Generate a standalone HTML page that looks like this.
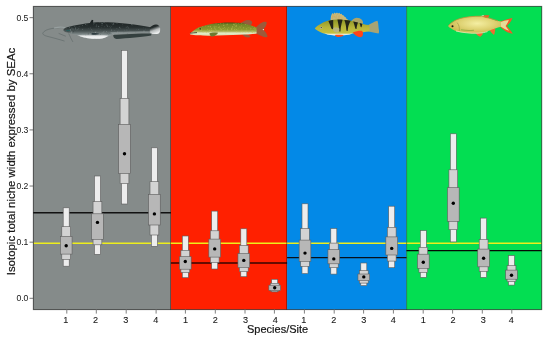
<!DOCTYPE html><html><head><meta charset="utf-8"><style>
html,body{margin:0;padding:0;background:#fff;width:550px;height:339px;overflow:hidden}
svg{display:block}
text{font-family:"Liberation Sans",Arial,sans-serif;fill:#161616;stroke:#161616;stroke-width:0.2}
</style></head><body>
<svg width="550" height="339" viewBox="0 0 550 339">
<rect x="33.3" y="6.4" width="137.60" height="303.20000000000005" fill="#858b8a"/>
<rect x="170.9" y="6.4" width="116.20" height="303.20000000000005" fill="#ff2000"/>
<rect x="287.1" y="6.4" width="119.40" height="303.20000000000005" fill="#0389e7"/>
<rect x="406.5" y="6.4" width="135.20" height="303.20000000000005" fill="#03de52"/>
<line x1="33.35" x2="541.7" y1="243.25" y2="243.25" stroke="#eeee1c" stroke-width="1.6"/>
<line x1="33.3" x2="170.9" y1="212.75" y2="212.75" stroke="#111" stroke-width="1.6"/>
<line x1="170.9" x2="287.1" y1="263.0" y2="263.0" stroke="#360400" stroke-width="1.7"/>
<line x1="287.1" x2="406.5" y1="257.6" y2="257.6" stroke="#08101a" stroke-width="1.35"/>
<line x1="406.5" x2="541.7" y1="250.6" y2="250.6" stroke="#050a05" stroke-width="1.3"/>
<rect x="63.20" y="207.80" width="6.00" height="58.40" fill="#ededed" stroke="#5c5c5c" stroke-width="0.6"/>
<rect x="61.80" y="226.70" width="8.80" height="32.70" fill="#d3d3d3" stroke="#5c5c5c" stroke-width="0.6"/>
<rect x="60.35" y="236.30" width="11.70" height="17.80" fill="#b7b7b7" stroke="#5c5c5c" stroke-width="0.6"/>
<circle cx="66.2" cy="245.8" r="1.7" fill="#000"/>
<rect x="94.45" y="176.00" width="6.00" height="78.30" fill="#ededed" stroke="#5c5c5c" stroke-width="0.6"/>
<rect x="93.05" y="201.60" width="8.80" height="43.20" fill="#d3d3d3" stroke="#5c5c5c" stroke-width="0.6"/>
<rect x="91.60" y="213.80" width="11.70" height="25.50" fill="#b7b7b7" stroke="#5c5c5c" stroke-width="0.6"/>
<circle cx="97.45" cy="222.4" r="1.7" fill="#000"/>
<rect x="121.50" y="50.30" width="6.00" height="153.70" fill="#ededed" stroke="#5c5c5c" stroke-width="0.6"/>
<rect x="120.10" y="98.30" width="8.80" height="85.30" fill="#d3d3d3" stroke="#5c5c5c" stroke-width="0.6"/>
<rect x="118.65" y="124.30" width="11.70" height="49.30" fill="#b7b7b7" stroke="#5c5c5c" stroke-width="0.6"/>
<circle cx="124.5" cy="153.7" r="1.7" fill="#000"/>
<rect x="151.40" y="147.80" width="6.00" height="98.50" fill="#ededed" stroke="#5c5c5c" stroke-width="0.6"/>
<rect x="150.00" y="181.70" width="8.80" height="53.30" fill="#d3d3d3" stroke="#5c5c5c" stroke-width="0.6"/>
<rect x="148.55" y="194.30" width="11.70" height="30.70" fill="#b7b7b7" stroke="#5c5c5c" stroke-width="0.6"/>
<circle cx="154.4" cy="213.9" r="1.7" fill="#000"/>
<rect x="182.30" y="236.00" width="6.00" height="41.70" fill="#ededed" stroke="#5c5c5c" stroke-width="0.6"/>
<rect x="180.90" y="250.40" width="8.80" height="22.00" fill="#d3d3d3" stroke="#5c5c5c" stroke-width="0.6"/>
<rect x="179.45" y="256.70" width="11.70" height="12.50" fill="#b7b7b7" stroke="#5c5c5c" stroke-width="0.6"/>
<circle cx="185.3" cy="261.5" r="1.7" fill="#000"/>
<rect x="211.70" y="211.10" width="6.00" height="57.90" fill="#ededed" stroke="#5c5c5c" stroke-width="0.6"/>
<rect x="210.30" y="230.80" width="8.80" height="31.60" fill="#d3d3d3" stroke="#5c5c5c" stroke-width="0.6"/>
<rect x="208.85" y="239.10" width="11.70" height="18.00" fill="#b7b7b7" stroke="#5c5c5c" stroke-width="0.6"/>
<circle cx="214.7" cy="248.9" r="1.7" fill="#000"/>
<rect x="240.80" y="228.80" width="6.00" height="47.90" fill="#ededed" stroke="#5c5c5c" stroke-width="0.6"/>
<rect x="239.40" y="245.40" width="8.80" height="26.10" fill="#d3d3d3" stroke="#5c5c5c" stroke-width="0.6"/>
<rect x="237.95" y="253.60" width="11.70" height="13.90" fill="#b7b7b7" stroke="#5c5c5c" stroke-width="0.6"/>
<circle cx="243.8" cy="260.4" r="1.7" fill="#000"/>
<rect x="271.70" y="279.30" width="6.00" height="12.60" fill="#ededed" stroke="#5c5c5c" stroke-width="0.6"/>
<rect x="270.30" y="283.30" width="8.80" height="7.80" fill="#d3d3d3" stroke="#5c5c5c" stroke-width="0.6"/>
<rect x="268.85" y="285.20" width="11.70" height="5.20" fill="#b7b7b7" stroke="#5c5c5c" stroke-width="0.6"/>
<circle cx="274.7" cy="287.7" r="1.7" fill="#000"/>
<rect x="302.00" y="203.80" width="6.00" height="69.80" fill="#ededed" stroke="#5c5c5c" stroke-width="0.6"/>
<rect x="300.60" y="228.60" width="8.80" height="37.70" fill="#d3d3d3" stroke="#5c5c5c" stroke-width="0.6"/>
<rect x="299.15" y="240.10" width="11.70" height="21.20" fill="#b7b7b7" stroke="#5c5c5c" stroke-width="0.6"/>
<circle cx="305.0" cy="253.1" r="1.7" fill="#000"/>
<rect x="330.80" y="228.50" width="6.00" height="45.60" fill="#ededed" stroke="#5c5c5c" stroke-width="0.6"/>
<rect x="329.40" y="243.10" width="8.80" height="24.60" fill="#d3d3d3" stroke="#5c5c5c" stroke-width="0.6"/>
<rect x="327.95" y="249.70" width="11.70" height="14.10" fill="#b7b7b7" stroke="#5c5c5c" stroke-width="0.6"/>
<circle cx="333.8" cy="258.9" r="1.7" fill="#000"/>
<rect x="360.80" y="263.00" width="6.00" height="22.60" fill="#ededed" stroke="#5c5c5c" stroke-width="0.6"/>
<rect x="359.40" y="270.60" width="8.80" height="12.50" fill="#d3d3d3" stroke="#5c5c5c" stroke-width="0.6"/>
<rect x="357.95" y="274.00" width="11.70" height="6.60" fill="#b7b7b7" stroke="#5c5c5c" stroke-width="0.6"/>
<circle cx="363.8" cy="276.9" r="1.7" fill="#000"/>
<rect x="388.70" y="206.20" width="6.00" height="61.50" fill="#ededed" stroke="#5c5c5c" stroke-width="0.6"/>
<rect x="387.30" y="227.30" width="8.80" height="33.80" fill="#d3d3d3" stroke="#5c5c5c" stroke-width="0.6"/>
<rect x="385.85" y="236.90" width="11.70" height="18.10" fill="#b7b7b7" stroke="#5c5c5c" stroke-width="0.6"/>
<circle cx="391.7" cy="248.4" r="1.7" fill="#000"/>
<rect x="420.30" y="230.60" width="6.00" height="46.80" fill="#ededed" stroke="#5c5c5c" stroke-width="0.6"/>
<rect x="418.90" y="247.30" width="8.80" height="25.10" fill="#d3d3d3" stroke="#5c5c5c" stroke-width="0.6"/>
<rect x="417.45" y="254.20" width="11.70" height="14.10" fill="#b7b7b7" stroke="#5c5c5c" stroke-width="0.6"/>
<circle cx="423.3" cy="262.3" r="1.7" fill="#000"/>
<rect x="450.30" y="133.80" width="6.00" height="108.10" fill="#ededed" stroke="#5c5c5c" stroke-width="0.6"/>
<rect x="448.90" y="169.80" width="8.80" height="59.90" fill="#d3d3d3" stroke="#5c5c5c" stroke-width="0.6"/>
<rect x="447.45" y="187.70" width="11.70" height="33.60" fill="#b7b7b7" stroke="#5c5c5c" stroke-width="0.6"/>
<circle cx="453.3" cy="203.2" r="1.7" fill="#000"/>
<rect x="480.60" y="218.10" width="6.00" height="59.30" fill="#ededed" stroke="#5c5c5c" stroke-width="0.6"/>
<rect x="479.20" y="239.50" width="8.80" height="31.80" fill="#d3d3d3" stroke="#5c5c5c" stroke-width="0.6"/>
<rect x="477.75" y="249.10" width="11.70" height="17.70" fill="#b7b7b7" stroke="#5c5c5c" stroke-width="0.6"/>
<circle cx="483.6" cy="258.3" r="1.7" fill="#000"/>
<rect x="508.50" y="255.60" width="6.00" height="29.50" fill="#ededed" stroke="#5c5c5c" stroke-width="0.6"/>
<rect x="507.10" y="265.60" width="8.80" height="16.00" fill="#d3d3d3" stroke="#5c5c5c" stroke-width="0.6"/>
<rect x="505.65" y="270.10" width="11.70" height="9.10" fill="#b7b7b7" stroke="#5c5c5c" stroke-width="0.6"/>
<circle cx="511.5" cy="275.2" r="1.7" fill="#000"/>
<rect x="33.35" y="6.4" width="508.35" height="303.20000000000005" fill="none" stroke="#000" stroke-opacity="0.6" stroke-width="1.0"/>
<line x1="170.5" x2="170.5" y1="6.4" y2="309.6" stroke="#000" stroke-opacity="0.45" stroke-width="0.9"/>
<line x1="286.7" x2="286.7" y1="6.4" y2="309.6" stroke="#000" stroke-opacity="0.45" stroke-width="0.9"/>
<line x1="406.6" x2="406.6" y1="6.4" y2="309.6" stroke="#000" stroke-opacity="0.45" stroke-width="0.9"/>
<line x1="29.5" x2="33.35" y1="298.30" y2="298.30" stroke="#555" stroke-width="0.8"/>
<text x="28.4" y="301.40" font-size="8.6" text-anchor="end" style="stroke-width:0.02">0.0</text>
<line x1="29.5" x2="33.35" y1="242.17" y2="242.17" stroke="#555" stroke-width="0.8"/>
<text x="28.4" y="245.27" font-size="8.6" text-anchor="end" style="stroke-width:0.02">0.1</text>
<line x1="29.5" x2="33.35" y1="186.04" y2="186.04" stroke="#555" stroke-width="0.8"/>
<text x="28.4" y="189.14" font-size="8.6" text-anchor="end" style="stroke-width:0.02">0.2</text>
<line x1="29.5" x2="33.35" y1="129.91" y2="129.91" stroke="#555" stroke-width="0.8"/>
<text x="28.4" y="133.01" font-size="8.6" text-anchor="end" style="stroke-width:0.02">0.3</text>
<line x1="29.5" x2="33.35" y1="73.78" y2="73.78" stroke="#555" stroke-width="0.8"/>
<text x="28.4" y="76.88" font-size="8.6" text-anchor="end" style="stroke-width:0.02">0.4</text>
<line x1="29.5" x2="33.35" y1="17.65" y2="17.65" stroke="#555" stroke-width="0.8"/>
<text x="28.4" y="20.75" font-size="8.6" text-anchor="end" style="stroke-width:0.02">0.5</text>
<line x1="66.80" x2="66.80" y1="309.6" y2="313.6" stroke="#808080" stroke-width="1.0"/>
<text x="65.80" y="322.8" font-size="9.1" text-anchor="middle" style="stroke-width:0.1">1</text>
<line x1="96.30" x2="96.30" y1="309.6" y2="313.6" stroke="#808080" stroke-width="1.0"/>
<text x="95.60" y="322.8" font-size="9.1" text-anchor="middle" style="stroke-width:0.1">2</text>
<line x1="126.20" x2="126.20" y1="309.6" y2="313.6" stroke="#808080" stroke-width="1.0"/>
<text x="125.70" y="322.8" font-size="9.1" text-anchor="middle" style="stroke-width:0.1">3</text>
<line x1="156.10" x2="156.10" y1="309.6" y2="313.6" stroke="#808080" stroke-width="1.0"/>
<text x="155.80" y="322.8" font-size="9.1" text-anchor="middle" style="stroke-width:0.1">4</text>
<line x1="185.40" x2="185.40" y1="309.6" y2="313.6" stroke="#808080" stroke-width="1.0"/>
<text x="185.60" y="322.8" font-size="9.1" text-anchor="middle" style="stroke-width:0.1">1</text>
<line x1="215.30" x2="215.30" y1="309.6" y2="313.6" stroke="#808080" stroke-width="1.0"/>
<text x="215.30" y="322.8" font-size="9.1" text-anchor="middle" style="stroke-width:0.1">2</text>
<line x1="245.00" x2="245.00" y1="309.6" y2="313.6" stroke="#808080" stroke-width="1.0"/>
<text x="245.60" y="322.8" font-size="9.1" text-anchor="middle" style="stroke-width:0.1">3</text>
<line x1="274.40" x2="274.40" y1="309.6" y2="313.6" stroke="#808080" stroke-width="1.0"/>
<text x="275.40" y="322.8" font-size="9.1" text-anchor="middle" style="stroke-width:0.1">4</text>
<line x1="304.40" x2="304.40" y1="309.6" y2="313.6" stroke="#808080" stroke-width="1.0"/>
<text x="303.70" y="322.8" font-size="9.1" text-anchor="middle" style="stroke-width:0.1">1</text>
<line x1="334.20" x2="334.20" y1="309.6" y2="313.6" stroke="#808080" stroke-width="1.0"/>
<text x="333.70" y="322.8" font-size="9.1" text-anchor="middle" style="stroke-width:0.1">2</text>
<line x1="363.60" x2="363.60" y1="309.6" y2="313.6" stroke="#808080" stroke-width="1.0"/>
<text x="363.70" y="322.8" font-size="9.1" text-anchor="middle" style="stroke-width:0.1">3</text>
<line x1="393.40" x2="393.40" y1="309.6" y2="313.6" stroke="#808080" stroke-width="1.0"/>
<text x="393.40" y="322.8" font-size="9.1" text-anchor="middle" style="stroke-width:0.1">4</text>
<line x1="423.20" x2="423.20" y1="309.6" y2="313.6" stroke="#808080" stroke-width="1.0"/>
<text x="423.30" y="322.8" font-size="9.1" text-anchor="middle" style="stroke-width:0.1">1</text>
<line x1="452.60" x2="452.60" y1="309.6" y2="313.6" stroke="#808080" stroke-width="1.0"/>
<text x="453.10" y="322.8" font-size="9.1" text-anchor="middle" style="stroke-width:0.1">2</text>
<line x1="482.30" x2="482.30" y1="309.6" y2="313.6" stroke="#808080" stroke-width="1.0"/>
<text x="483.40" y="322.8" font-size="9.1" text-anchor="middle" style="stroke-width:0.1">3</text>
<line x1="511.80" x2="511.80" y1="309.6" y2="313.6" stroke="#808080" stroke-width="1.0"/>
<text x="511.30" y="322.8" font-size="9.1" text-anchor="middle" style="stroke-width:0.1">4</text>
<text x="277.6" y="333" font-size="11" text-anchor="middle">Species/Site</text>
<text transform="translate(14.6,161.5) rotate(-90)" font-size="11.45" text-anchor="middle">Isotopic total niche width expressed by SEAc</text>
<defs>
<clipPath id="catc"><path d="M63.4,29.8 C63.8,28.6 65.5,27.8 68,27 C72,25.8 76,25 80,24.4 C84,23.8 87.5,23.3 89.8,23 L91.9,19.7 L93.3,20.2 L93,22.5 C103,22 115,22.4 125,23.6 C135,24.7 144,25.9 150.8,27.2 L150.8,33.3 C140,33.2 126,33.5 113,34.6 C108.5,36.2 105,38.2 100,38.6 C93,38.9 85,38.4 80,36.2 C75,34.6 70,33.6 66,32.3 C64.2,31.6 63.2,30.7 63.4,29.8 Z"/></clipPath>
<clipPath id="pikec"><path d="M189.8,33.6 C192,32 195,29.3 199,27.3 C203,25.9 207,24.7 211,24 C214,23.4 217,23 220,22.9 C223.5,22.6 227,22.5 230,22.5 C234,22.6 238,22.7 241,23 C244,23.5 246,23.9 248,24.4 C251,25.3 253.8,26.3 256.6,27.4 L256.6,33.6 C252,34.2 246,34.5 240,34.7 C230,34.9 220,35.4 210,35.7 C202,35.8 195,35.3 190.3,34.5 Z"/></clipPath>
</defs><defs>
<linearGradient id="catg" x1="0" y1="0" x2="0" y2="1">
<stop offset="0" stop-color="#1a2020"/><stop offset="0.4" stop-color="#283030"/><stop offset="0.6" stop-color="#4a5454"/><stop offset="0.8" stop-color="#8a9494"/><stop offset="1" stop-color="#b4bcbc"/>
</linearGradient>
<linearGradient id="tailg" x1="0.1" y1="0" x2="0.5" y2="1"><stop offset="0" stop-color="#121616"/><stop offset="0.35" stop-color="#283030"/><stop offset="0.65" stop-color="#b8bcbc"/><stop offset="1" stop-color="#eef0f0"/></linearGradient>
<linearGradient id="bellyg" x1="0" y1="0" x2="0" y2="1">
<stop offset="0" stop-color="#c8cccc" stop-opacity="0.3"/><stop offset="0.35" stop-color="#e6e8e8"/><stop offset="1" stop-color="#f4f6f6"/>
</linearGradient>
<linearGradient id="pikeg" x1="0" y1="0" x2="0" y2="1">
<stop offset="0" stop-color="#485416"/><stop offset="0.15" stop-color="#738326"/><stop offset="0.55" stop-color="#8d9a30"/><stop offset="0.68" stop-color="#aeb664"/><stop offset="0.8" stop-color="#e4ecc8"/><stop offset="1" stop-color="#d6deae"/>
</linearGradient>
<linearGradient id="perchg" x1="0" y1="0" x2="0" y2="1">
<stop offset="0" stop-color="#8e9426"/><stop offset="0.5" stop-color="#b6b53a"/><stop offset="0.85" stop-color="#c4c040"/><stop offset="1" stop-color="#f4f4e8"/>
</linearGradient>
<radialGradient id="ruddg" cx="0.55" cy="0.42" r="0.62">
<stop offset="0" stop-color="#f4eea2"/><stop offset="0.5" stop-color="#e0d476"/><stop offset="1" stop-color="#c6b44a"/>
</radialGradient>
</defs>
<!-- catfish -->
<g fill="none" stroke="#5e6868" stroke-width="0.62" stroke-linecap="round">
<path d="M64.5,27.2 C60,27.6 56,27.9 52,28.5 C47.5,29.3 44,30.8 42.8,33 C42.5,34.6 44.5,35.6 48,36.5 C53,37.8 58.5,39.2 64.2,41"/>
<path d="M59,33.5 C61,34.3 63.5,35.2 65.5,36.1"/>
<path d="M68.8,33.8 C69.5,35 70.2,36.5 70.6,37.6 C71.3,39 72,40.5 72.7,41.6"/>
</g>
<path d="M54.5,27.9 C57.5,27.2 61,26.9 64.8,27.4" fill="none" stroke="#98a0a0" stroke-width="1.3" stroke-linecap="round"/>
<path d="M63.4,29.8 C63.8,28.6 65.5,27.8 68,27 C72,25.8 76,25 80,24.4 C84,23.8 87.5,23.3 89.8,23 L91.9,19.7 L93.3,20.2 L93,22.5 C103,22 115,22.4 125,23.6 C135,24.7 144,25.9 150.8,27.2 L150.8,33.3 C140,33.2 126,33.5 113,34.6 C108.5,36.2 105,38.2 100,38.6 C93,38.9 85,38.4 80,36.2 C75,34.6 70,33.6 66,32.3 C64.2,31.6 63.2,30.7 63.4,29.8 Z" fill="url(#catg)"/>
<g clip-path="url(#catc)">
<circle cx="94.7" cy="22.9" r="0.53" fill="#5e6a6a" opacity="0.75"/>
<circle cx="143.5" cy="21.8" r="0.50" fill="#4a5656" opacity="0.75"/>
<circle cx="84.0" cy="21.6" r="0.45" fill="#5e6a6a" opacity="0.75"/>
<circle cx="71.9" cy="28.1" r="0.59" fill="#5e6a6a" opacity="0.75"/>
<circle cx="155.9" cy="32.0" r="0.50" fill="#3a4444" opacity="0.6"/>
<circle cx="119.6" cy="27.5" r="0.64" fill="#5e6a6a" opacity="0.75"/>
<circle cx="117.6" cy="22.5" r="0.45" fill="#4a5656" opacity="0.75"/>
<circle cx="74.5" cy="25.9" r="0.59" fill="#5e6a6a" opacity="0.75"/>
<circle cx="73.1" cy="30.9" r="0.37" fill="#5e6a6a" opacity="0.75"/>
<circle cx="116.7" cy="21.2" r="0.32" fill="#5e6a6a" opacity="0.75"/>
<circle cx="111.6" cy="30.1" r="0.57" fill="#748080" opacity="0.75"/>
<circle cx="120.4" cy="28.6" r="0.40" fill="#5e6a6a" opacity="0.75"/>
<circle cx="131.5" cy="24.6" r="0.50" fill="#4a5656" opacity="0.75"/>
<circle cx="111.5" cy="26.5" r="0.46" fill="#4a5656" opacity="0.75"/>
<circle cx="159.1" cy="22.2" r="0.45" fill="#748080" opacity="0.75"/>
<circle cx="77.9" cy="29.3" r="0.31" fill="#4a5656" opacity="0.75"/>
<circle cx="70.6" cy="30.6" r="0.58" fill="#748080" opacity="0.75"/>
<circle cx="96.3" cy="26.7" r="0.47" fill="#748080" opacity="0.75"/>
<circle cx="69.7" cy="21.8" r="0.39" fill="#4a5656" opacity="0.75"/>
<circle cx="128.1" cy="21.2" r="0.55" fill="#4a5656" opacity="0.75"/>
<circle cx="119.6" cy="32.9" r="0.46" fill="#9aa2a2" opacity="0.6"/>
<circle cx="100.8" cy="32.7" r="0.31" fill="#505a5a" opacity="0.6"/>
<circle cx="97.8" cy="31.6" r="0.47" fill="#3a4444" opacity="0.6"/>
<circle cx="138.3" cy="22.5" r="0.39" fill="#748080" opacity="0.75"/>
<circle cx="152.8" cy="29.4" r="0.36" fill="#748080" opacity="0.75"/>
<circle cx="116.8" cy="36.8" r="0.59" fill="#9aa2a2" opacity="0.6"/>
<circle cx="90.3" cy="27.9" r="0.43" fill="#748080" opacity="0.75"/>
<circle cx="156.9" cy="22.9" r="0.36" fill="#5e6a6a" opacity="0.75"/>
<circle cx="127.5" cy="20.2" r="0.59" fill="#5e6a6a" opacity="0.75"/>
<circle cx="88.7" cy="20.1" r="0.45" fill="#748080" opacity="0.75"/>
<circle cx="122.8" cy="26.1" r="0.34" fill="#4a5656" opacity="0.75"/>
<circle cx="156.1" cy="32.4" r="0.56" fill="#505a5a" opacity="0.6"/>
<circle cx="151.2" cy="34.8" r="0.61" fill="#9aa2a2" opacity="0.6"/>
<circle cx="101.5" cy="27.6" r="0.34" fill="#4a5656" opacity="0.75"/>
<circle cx="102.2" cy="23.6" r="0.64" fill="#748080" opacity="0.75"/>
<circle cx="78.9" cy="26.5" r="0.32" fill="#5e6a6a" opacity="0.75"/>
<circle cx="118.5" cy="30.2" r="0.63" fill="#4a5656" opacity="0.75"/>
<circle cx="65.5" cy="36.6" r="0.51" fill="#3a4444" opacity="0.6"/>
<circle cx="125.2" cy="38.2" r="0.51" fill="#505a5a" opacity="0.6"/>
<circle cx="75.0" cy="36.1" r="0.65" fill="#505a5a" opacity="0.6"/>
<circle cx="110.1" cy="25.9" r="0.35" fill="#4a5656" opacity="0.75"/>
<circle cx="96.6" cy="25.0" r="0.59" fill="#5e6a6a" opacity="0.75"/>
<circle cx="113.6" cy="23.9" r="0.63" fill="#748080" opacity="0.75"/>
<circle cx="77.4" cy="30.3" r="0.31" fill="#4a5656" opacity="0.75"/>
<circle cx="92.2" cy="32.2" r="0.33" fill="#505a5a" opacity="0.6"/>
<circle cx="113.8" cy="37.3" r="0.42" fill="#3a4444" opacity="0.6"/>
<circle cx="115.2" cy="34.8" r="0.42" fill="#3a4444" opacity="0.6"/>
<circle cx="123.1" cy="35.0" r="0.57" fill="#3a4444" opacity="0.6"/>
<circle cx="142.0" cy="35.5" r="0.56" fill="#3a4444" opacity="0.6"/>
<circle cx="82.6" cy="29.4" r="0.56" fill="#5e6a6a" opacity="0.75"/>
<circle cx="140.4" cy="29.0" r="0.37" fill="#4a5656" opacity="0.75"/>
<circle cx="156.7" cy="28.5" r="0.63" fill="#748080" opacity="0.75"/>
<circle cx="156.6" cy="26.9" r="0.38" fill="#5e6a6a" opacity="0.75"/>
<circle cx="109.1" cy="26.4" r="0.47" fill="#4a5656" opacity="0.75"/>
<circle cx="145.4" cy="29.1" r="0.53" fill="#4a5656" opacity="0.75"/>
<circle cx="71.3" cy="32.6" r="0.62" fill="#9aa2a2" opacity="0.6"/>
<circle cx="136.5" cy="29.1" r="0.36" fill="#4a5656" opacity="0.75"/>
<circle cx="95.6" cy="35.2" r="0.64" fill="#505a5a" opacity="0.6"/>
<circle cx="108.4" cy="34.1" r="0.33" fill="#3a4444" opacity="0.6"/>
<circle cx="79.7" cy="22.4" r="0.35" fill="#748080" opacity="0.75"/>
<circle cx="142.0" cy="22.8" r="0.59" fill="#748080" opacity="0.75"/>
<circle cx="127.4" cy="26.7" r="0.49" fill="#5e6a6a" opacity="0.75"/>
<circle cx="65.1" cy="35.2" r="0.55" fill="#3a4444" opacity="0.6"/>
<circle cx="114.6" cy="37.7" r="0.45" fill="#3a4444" opacity="0.6"/>
<circle cx="144.0" cy="24.0" r="0.39" fill="#748080" opacity="0.75"/>
<circle cx="112.1" cy="34.5" r="0.41" fill="#9aa2a2" opacity="0.6"/>
<circle cx="104.1" cy="22.5" r="0.62" fill="#748080" opacity="0.75"/>
<circle cx="151.0" cy="32.6" r="0.59" fill="#9aa2a2" opacity="0.6"/>
<circle cx="104.2" cy="37.4" r="0.48" fill="#9aa2a2" opacity="0.6"/>
<circle cx="77.9" cy="29.7" r="0.61" fill="#5e6a6a" opacity="0.75"/>
<circle cx="122.6" cy="34.7" r="0.35" fill="#3a4444" opacity="0.6"/>
<circle cx="109.4" cy="33.8" r="0.49" fill="#505a5a" opacity="0.6"/>
<circle cx="129.9" cy="30.1" r="0.47" fill="#5e6a6a" opacity="0.75"/>
<circle cx="149.6" cy="21.1" r="0.37" fill="#5e6a6a" opacity="0.75"/>
<circle cx="138.7" cy="29.6" r="0.50" fill="#5e6a6a" opacity="0.75"/>
<circle cx="106.4" cy="31.6" r="0.48" fill="#9aa2a2" opacity="0.6"/>
<circle cx="82.5" cy="25.3" r="0.48" fill="#748080" opacity="0.75"/>
<circle cx="112.8" cy="24.7" r="0.48" fill="#748080" opacity="0.75"/>
<circle cx="153.4" cy="37.0" r="0.37" fill="#505a5a" opacity="0.6"/>
<circle cx="76.4" cy="22.3" r="0.45" fill="#5e6a6a" opacity="0.75"/>
<circle cx="128.8" cy="28.1" r="0.37" fill="#748080" opacity="0.75"/>
<circle cx="139.8" cy="37.0" r="0.35" fill="#9aa2a2" opacity="0.6"/>
<circle cx="126.1" cy="27.0" r="0.39" fill="#5e6a6a" opacity="0.75"/>
<circle cx="157.8" cy="24.2" r="0.63" fill="#748080" opacity="0.75"/>
<circle cx="149.7" cy="23.1" r="0.53" fill="#5e6a6a" opacity="0.75"/>
<circle cx="78.8" cy="28.2" r="0.48" fill="#748080" opacity="0.75"/>
<circle cx="104.3" cy="26.8" r="0.33" fill="#748080" opacity="0.75"/>
<circle cx="64.9" cy="30.5" r="0.45" fill="#5e6a6a" opacity="0.75"/>
<circle cx="100.7" cy="29.8" r="0.40" fill="#5e6a6a" opacity="0.75"/>
<circle cx="74.1" cy="37.5" r="0.38" fill="#3a4444" opacity="0.6"/>
<circle cx="71.2" cy="25.2" r="0.62" fill="#5e6a6a" opacity="0.75"/>
<circle cx="89.5" cy="22.5" r="0.45" fill="#4a5656" opacity="0.75"/>
<circle cx="143.3" cy="24.9" r="0.35" fill="#4a5656" opacity="0.75"/>
<circle cx="118.9" cy="33.3" r="0.33" fill="#3a4444" opacity="0.6"/>
<circle cx="141.4" cy="23.5" r="0.61" fill="#748080" opacity="0.75"/>
<circle cx="155.0" cy="32.1" r="0.58" fill="#3a4444" opacity="0.6"/>
<circle cx="122.6" cy="24.2" r="0.39" fill="#5e6a6a" opacity="0.75"/>
<circle cx="107.5" cy="26.4" r="0.49" fill="#748080" opacity="0.75"/>
<circle cx="123.9" cy="20.8" r="0.55" fill="#5e6a6a" opacity="0.75"/>
<circle cx="158.0" cy="25.0" r="0.36" fill="#748080" opacity="0.75"/>
<circle cx="124.6" cy="30.1" r="0.37" fill="#748080" opacity="0.75"/>
<circle cx="112.0" cy="23.4" r="0.42" fill="#5e6a6a" opacity="0.75"/>
<circle cx="160.5" cy="20.7" r="0.31" fill="#4a5656" opacity="0.75"/>
<circle cx="117.0" cy="23.6" r="0.47" fill="#748080" opacity="0.75"/>
<circle cx="73.4" cy="35.6" r="0.45" fill="#505a5a" opacity="0.6"/>
<circle cx="116.5" cy="36.9" r="0.64" fill="#505a5a" opacity="0.6"/>
<circle cx="130.4" cy="38.7" r="0.42" fill="#9aa2a2" opacity="0.6"/>
<circle cx="134.4" cy="22.7" r="0.65" fill="#5e6a6a" opacity="0.75"/>
<circle cx="145.0" cy="20.3" r="0.52" fill="#748080" opacity="0.75"/>
<circle cx="105.2" cy="21.1" r="0.53" fill="#748080" opacity="0.75"/>
<circle cx="148.3" cy="32.7" r="0.40" fill="#3a4444" opacity="0.6"/>
<circle cx="130.9" cy="20.9" r="0.36" fill="#748080" opacity="0.75"/>
<circle cx="106.7" cy="25.0" r="0.64" fill="#4a5656" opacity="0.75"/>
<circle cx="94.7" cy="20.7" r="0.61" fill="#5e6a6a" opacity="0.75"/>
<circle cx="97.9" cy="20.0" r="0.43" fill="#748080" opacity="0.75"/>
<circle cx="90.3" cy="32.5" r="0.39" fill="#3a4444" opacity="0.6"/>
<circle cx="71.9" cy="35.5" r="0.35" fill="#9aa2a2" opacity="0.6"/>
<circle cx="67.1" cy="20.4" r="0.41" fill="#5e6a6a" opacity="0.75"/>
<circle cx="71.3" cy="38.2" r="0.60" fill="#3a4444" opacity="0.6"/>
<circle cx="127.4" cy="33.6" r="0.61" fill="#505a5a" opacity="0.6"/>
<circle cx="137.9" cy="33.7" r="0.47" fill="#505a5a" opacity="0.6"/>
<circle cx="134.0" cy="32.2" r="0.32" fill="#9aa2a2" opacity="0.6"/>
<circle cx="150.4" cy="31.9" r="0.56" fill="#9aa2a2" opacity="0.6"/>
<circle cx="76.7" cy="30.0" r="0.48" fill="#5e6a6a" opacity="0.75"/>
<circle cx="144.0" cy="31.1" r="0.61" fill="#9aa2a2" opacity="0.6"/>
<circle cx="156.7" cy="32.2" r="0.33" fill="#3a4444" opacity="0.6"/>
<circle cx="76.0" cy="26.9" r="0.34" fill="#748080" opacity="0.75"/>
<circle cx="117.7" cy="31.9" r="0.52" fill="#9aa2a2" opacity="0.6"/>
<circle cx="87.0" cy="25.0" r="0.46" fill="#5e6a6a" opacity="0.75"/>
<circle cx="136.3" cy="29.6" r="0.49" fill="#4a5656" opacity="0.75"/>
<circle cx="114.5" cy="34.2" r="0.47" fill="#3a4444" opacity="0.6"/>
<circle cx="145.9" cy="24.5" r="0.56" fill="#5e6a6a" opacity="0.75"/>
<circle cx="135.5" cy="38.5" r="0.47" fill="#505a5a" opacity="0.6"/>
<circle cx="70.5" cy="37.3" r="0.40" fill="#3a4444" opacity="0.6"/>
<circle cx="123.5" cy="32.2" r="0.33" fill="#3a4444" opacity="0.6"/>
<circle cx="95.5" cy="32.4" r="0.54" fill="#9aa2a2" opacity="0.6"/>
<circle cx="118.6" cy="20.2" r="0.32" fill="#748080" opacity="0.75"/>
<circle cx="158.3" cy="21.9" r="0.38" fill="#748080" opacity="0.75"/>
<circle cx="91.5" cy="29.8" r="0.46" fill="#748080" opacity="0.75"/>
<circle cx="138.2" cy="38.9" r="0.49" fill="#505a5a" opacity="0.6"/>
<circle cx="158.9" cy="37.8" r="0.31" fill="#505a5a" opacity="0.6"/>
<circle cx="70.5" cy="29.6" r="0.65" fill="#748080" opacity="0.75"/>
<circle cx="100.9" cy="37.4" r="0.63" fill="#3a4444" opacity="0.6"/>
<circle cx="120.0" cy="22.7" r="0.48" fill="#748080" opacity="0.75"/>
<circle cx="76.0" cy="35.6" r="0.48" fill="#3a4444" opacity="0.6"/>
<circle cx="131.9" cy="24.4" r="0.61" fill="#748080" opacity="0.75"/>
<circle cx="101.6" cy="23.0" r="0.63" fill="#4a5656" opacity="0.75"/>
<circle cx="107.2" cy="25.7" r="0.35" fill="#748080" opacity="0.75"/>
<circle cx="99.9" cy="22.3" r="0.42" fill="#748080" opacity="0.75"/>
<circle cx="136.6" cy="35.9" r="0.34" fill="#3a4444" opacity="0.6"/>
<circle cx="132.9" cy="37.1" r="0.40" fill="#505a5a" opacity="0.6"/>
<circle cx="69.4" cy="27.4" r="0.60" fill="#5e6a6a" opacity="0.75"/>
<circle cx="98.3" cy="28.1" r="0.40" fill="#5e6a6a" opacity="0.75"/>
<circle cx="90.5" cy="21.0" r="0.53" fill="#4a5656" opacity="0.75"/>
<circle cx="154.7" cy="24.7" r="0.39" fill="#4a5656" opacity="0.75"/>
<circle cx="93.9" cy="34.7" r="0.57" fill="#505a5a" opacity="0.6"/>
<circle cx="149.7" cy="35.4" r="0.52" fill="#9aa2a2" opacity="0.6"/>
<circle cx="116.8" cy="33.7" r="0.32" fill="#9aa2a2" opacity="0.6"/>
<circle cx="103.3" cy="31.7" r="0.35" fill="#505a5a" opacity="0.6"/>
<circle cx="110.6" cy="37.3" r="0.49" fill="#3a4444" opacity="0.6"/>
<circle cx="109.3" cy="26.5" r="0.40" fill="#4a5656" opacity="0.75"/>
<circle cx="135.4" cy="32.4" r="0.44" fill="#3a4444" opacity="0.6"/>
<circle cx="92.5" cy="30.6" r="0.44" fill="#5e6a6a" opacity="0.75"/>
<circle cx="126.0" cy="21.4" r="0.48" fill="#748080" opacity="0.75"/>
<circle cx="116.9" cy="28.6" r="0.42" fill="#748080" opacity="0.75"/>
<circle cx="104.9" cy="30.4" r="0.39" fill="#5e6a6a" opacity="0.75"/>
<circle cx="96.5" cy="21.7" r="0.38" fill="#748080" opacity="0.75"/>
<circle cx="142.3" cy="23.8" r="0.31" fill="#748080" opacity="0.75"/>
<circle cx="100.5" cy="34.2" r="0.37" fill="#505a5a" opacity="0.6"/>
<circle cx="96.1" cy="21.2" r="0.40" fill="#748080" opacity="0.75"/>
<circle cx="75.3" cy="29.6" r="0.52" fill="#5e6a6a" opacity="0.75"/>
<circle cx="72.1" cy="37.0" r="0.43" fill="#9aa2a2" opacity="0.6"/>
<circle cx="106.7" cy="38.1" r="0.60" fill="#3a4444" opacity="0.6"/>
<circle cx="75.5" cy="28.1" r="0.57" fill="#748080" opacity="0.75"/>
<circle cx="157.9" cy="29.3" r="0.33" fill="#4a5656" opacity="0.75"/>
<circle cx="146.8" cy="38.5" r="0.39" fill="#3a4444" opacity="0.6"/>
<circle cx="84.9" cy="22.9" r="0.64" fill="#5e6a6a" opacity="0.75"/>
<circle cx="155.3" cy="33.7" r="0.53" fill="#505a5a" opacity="0.6"/>
<circle cx="71.3" cy="34.8" r="0.30" fill="#3a4444" opacity="0.6"/>
<circle cx="85.8" cy="37.5" r="0.53" fill="#505a5a" opacity="0.6"/>
<circle cx="157.3" cy="31.9" r="0.48" fill="#505a5a" opacity="0.6"/>
<circle cx="131.5" cy="22.1" r="0.32" fill="#4a5656" opacity="0.75"/>
<circle cx="155.5" cy="23.6" r="0.39" fill="#4a5656" opacity="0.75"/>
<circle cx="63.1" cy="30.2" r="0.65" fill="#748080" opacity="0.75"/>
<circle cx="157.0" cy="32.2" r="0.61" fill="#505a5a" opacity="0.6"/>
<circle cx="114.6" cy="30.4" r="0.31" fill="#748080" opacity="0.75"/>
<circle cx="132.1" cy="25.8" r="0.31" fill="#748080" opacity="0.75"/>
<circle cx="149.7" cy="32.3" r="0.33" fill="#3a4444" opacity="0.6"/>
<circle cx="128.4" cy="37.6" r="0.38" fill="#3a4444" opacity="0.6"/>
<circle cx="131.2" cy="33.6" r="0.43" fill="#505a5a" opacity="0.6"/>
<circle cx="82.4" cy="35.1" r="0.56" fill="#9aa2a2" opacity="0.6"/>
<circle cx="69.6" cy="29.4" r="0.37" fill="#5e6a6a" opacity="0.75"/>
<circle cx="85.6" cy="24.2" r="0.57" fill="#748080" opacity="0.75"/>
<circle cx="73.7" cy="31.8" r="0.51" fill="#3a4444" opacity="0.6"/>
<circle cx="110.5" cy="37.3" r="0.32" fill="#9aa2a2" opacity="0.6"/>
<circle cx="77.3" cy="27.5" r="0.37" fill="#4a5656" opacity="0.75"/>
<circle cx="76.9" cy="21.0" r="0.32" fill="#748080" opacity="0.75"/>
<circle cx="107.1" cy="33.5" r="0.41" fill="#3a4444" opacity="0.6"/>
<circle cx="160.8" cy="37.7" r="0.42" fill="#3a4444" opacity="0.6"/>
<circle cx="126.9" cy="30.0" r="0.46" fill="#748080" opacity="0.75"/>
<circle cx="128.1" cy="27.2" r="0.43" fill="#748080" opacity="0.75"/>
<circle cx="106.4" cy="22.1" r="0.33" fill="#5e6a6a" opacity="0.75"/>
<circle cx="97.4" cy="38.2" r="0.34" fill="#3a4444" opacity="0.6"/>
<circle cx="100.3" cy="34.6" r="0.41" fill="#505a5a" opacity="0.6"/>
<circle cx="71.6" cy="33.4" r="0.37" fill="#9aa2a2" opacity="0.6"/>
<circle cx="153.1" cy="23.7" r="0.43" fill="#748080" opacity="0.75"/>
<circle cx="66.0" cy="27.8" r="0.58" fill="#748080" opacity="0.75"/>
<circle cx="67.0" cy="20.7" r="0.32" fill="#5e6a6a" opacity="0.75"/>
<circle cx="88.2" cy="34.2" r="0.61" fill="#505a5a" opacity="0.6"/>
<circle cx="98.6" cy="26.4" r="0.63" fill="#5e6a6a" opacity="0.75"/>
<circle cx="88.7" cy="33.6" r="0.41" fill="#505a5a" opacity="0.6"/>
<circle cx="92.1" cy="33.7" r="0.51" fill="#9aa2a2" opacity="0.6"/>
<circle cx="155.8" cy="21.2" r="0.59" fill="#5e6a6a" opacity="0.75"/>
<circle cx="109.6" cy="38.2" r="0.63" fill="#505a5a" opacity="0.6"/>
<circle cx="140.4" cy="37.4" r="0.59" fill="#3a4444" opacity="0.6"/>
<circle cx="154.0" cy="23.5" r="0.58" fill="#4a5656" opacity="0.75"/>
<circle cx="92.7" cy="33.2" r="0.35" fill="#3a4444" opacity="0.6"/>
<circle cx="95.1" cy="26.1" r="0.43" fill="#4a5656" opacity="0.75"/>
<circle cx="70.7" cy="23.7" r="0.56" fill="#5e6a6a" opacity="0.75"/>
<circle cx="103.0" cy="32.3" r="0.47" fill="#9aa2a2" opacity="0.6"/>
<circle cx="94.9" cy="38.6" r="0.61" fill="#3a4444" opacity="0.6"/>
<circle cx="89.0" cy="21.6" r="0.33" fill="#748080" opacity="0.75"/>
<circle cx="159.9" cy="38.5" r="0.36" fill="#3a4444" opacity="0.6"/>
<circle cx="103.9" cy="31.8" r="0.54" fill="#9aa2a2" opacity="0.6"/>
<circle cx="115.8" cy="34.7" r="0.57" fill="#505a5a" opacity="0.6"/>
<circle cx="91.8" cy="30.8" r="0.43" fill="#4a5656" opacity="0.75"/>
<circle cx="88.5" cy="28.3" r="0.37" fill="#5e6a6a" opacity="0.75"/>
<circle cx="78.0" cy="36.8" r="0.50" fill="#505a5a" opacity="0.6"/>
<circle cx="69.4" cy="24.8" r="0.39" fill="#4a5656" opacity="0.75"/>
<circle cx="85.7" cy="35.4" r="0.53" fill="#3a4444" opacity="0.6"/>
<circle cx="73.0" cy="29.0" r="0.59" fill="#748080" opacity="0.75"/>
<circle cx="152.6" cy="20.8" r="0.40" fill="#5e6a6a" opacity="0.75"/>
<circle cx="67.9" cy="31.4" r="0.59" fill="#3a4444" opacity="0.6"/>
<circle cx="154.2" cy="27.1" r="0.60" fill="#748080" opacity="0.75"/>
<circle cx="122.1" cy="34.7" r="0.53" fill="#3a4444" opacity="0.6"/>
<circle cx="73.4" cy="31.3" r="0.52" fill="#3a4444" opacity="0.6"/>
<circle cx="66.7" cy="26.5" r="0.32" fill="#748080" opacity="0.75"/>
<circle cx="66.7" cy="33.9" r="0.62" fill="#3a4444" opacity="0.6"/>
<circle cx="143.2" cy="27.8" r="0.43" fill="#4a5656" opacity="0.75"/>
<circle cx="93.6" cy="23.9" r="0.58" fill="#4a5656" opacity="0.75"/>
<circle cx="110.4" cy="27.8" r="0.58" fill="#4a5656" opacity="0.75"/>
<circle cx="116.9" cy="32.1" r="0.33" fill="#3a4444" opacity="0.6"/>
<circle cx="102.0" cy="25.2" r="0.65" fill="#4a5656" opacity="0.75"/>
<circle cx="93.1" cy="38.1" r="0.41" fill="#9aa2a2" opacity="0.6"/>
<circle cx="149.6" cy="27.9" r="0.31" fill="#748080" opacity="0.75"/>
<circle cx="126.2" cy="27.4" r="0.44" fill="#5e6a6a" opacity="0.75"/>
<circle cx="105.5" cy="23.0" r="0.34" fill="#5e6a6a" opacity="0.75"/>
<circle cx="102.8" cy="36.8" r="0.46" fill="#3a4444" opacity="0.6"/>
<circle cx="75.7" cy="21.0" r="0.35" fill="#748080" opacity="0.75"/>
<circle cx="71.7" cy="31.8" r="0.43" fill="#9aa2a2" opacity="0.6"/>
<circle cx="79.8" cy="26.6" r="0.36" fill="#5e6a6a" opacity="0.75"/>
<circle cx="153.7" cy="22.1" r="0.47" fill="#5e6a6a" opacity="0.75"/>
<circle cx="92.6" cy="35.9" r="0.32" fill="#505a5a" opacity="0.6"/>
<circle cx="93.8" cy="31.5" r="0.52" fill="#3a4444" opacity="0.6"/>
<circle cx="151.6" cy="31.8" r="0.59" fill="#3a4444" opacity="0.6"/>
<circle cx="125.8" cy="36.3" r="0.52" fill="#9aa2a2" opacity="0.6"/>
<circle cx="145.9" cy="35.8" r="0.36" fill="#3a4444" opacity="0.6"/>
<circle cx="67.1" cy="37.8" r="0.35" fill="#505a5a" opacity="0.6"/>
<circle cx="75.1" cy="24.7" r="0.55" fill="#5e6a6a" opacity="0.75"/>
<circle cx="67.0" cy="30.7" r="0.57" fill="#5e6a6a" opacity="0.75"/>
</g>

<path d="M149.6,27.4 C151.5,26 153.6,24.6 156,24.4 C158.5,24.4 159.8,26.5 160.1,28.5 C160.4,30.8 159.8,33 158.2,33.8 C156,34.2 153,34 150,33.4 Z" fill="url(#tailg)"/>
<path d="M110,32.2 C122,31.6 138,31.2 150.8,31.2 L150.8,33.3 C140,33.2 126,33.5 113,34.6 Z" fill="#a4acac" opacity="0.5"/>
<path d="M113.2,35 C122,34.3 140,33.6 151.5,33.6 L151.2,35.6 C145,37 126,38.6 116.5,38.9 C114.3,38.6 113.2,37.2 113.2,35 Z" fill="#34403f"/>
<path d="M77.5,35.2 C85,34.4 96,34.2 108.6,35.4 C106.5,37.3 103.5,38.4 99.5,38.7 C93,38.95 86,38.5 80.5,36.4 C79.4,36 78.4,35.6 77.5,35.2 Z" fill="url(#bellyg)"/>
<path d="M91.5,33.2 C94,32.8 97.5,33 99.5,34 C97,34.8 94,34.9 91.5,34.4 Z" fill="#2e3c40"/>
<ellipse cx="68.2" cy="30.5" rx="2.2" ry="0.85" fill="#2c5a5a"/>
<!-- pike -->
<path d="M240.5,23.6 C242,21.6 245,20 248,19.9 C251,20 252.6,21.5 252.2,23.3 C251.5,24.6 250.6,25.8 250,26.6 Z" fill="#9a5a3c"/>
<path d="M242.2,33.6 C245,33.8 249,35 250.6,36.3 C250,37.7 247.5,37.9 245.5,37.1 C243.5,36.1 242.6,35 242.2,33.6 Z" fill="#9a5a3c"/>
<path d="M255.8,27.5 C257.5,25.5 260,23.2 262.5,22.2 C264.5,21.5 266.5,21.6 266.8,22.8 C266.5,25.5 265,27.8 263.3,29.5 C265,31.3 267,33.8 267.6,36.2 C267.2,37.6 264.5,37.6 262,36.3 C259.8,35.4 257.8,34.4 255.8,33.6 Z" fill="#9c5a3a"/>
<circle cx="263.4" cy="29.6" r="0.7" fill="#f4e8e0"/>
<path d="M189.8,33.6 C192,32 195,29.3 199,27.3 C203,25.9 207,24.7 211,24 C214,23.4 217,23 220,22.9 C223.5,22.6 227,22.5 230,22.5 C234,22.6 238,22.7 241,23 C244,23.5 246,23.9 248,24.4 C251,25.3 253.8,26.3 256.6,27.4 L256.6,33.6 C252,34.2 246,34.5 240,34.7 C230,34.9 220,35.4 210,35.7 C202,35.8 195,35.3 190.3,34.5 Z" fill="url(#pikeg)"/><g clip-path="url(#pikec)">
<circle cx="236.7" cy="26.2" r="0.40" fill="#c8ca60" opacity="0.65"/>
<circle cx="223.8" cy="31.5" r="0.49" fill="#c8ca60" opacity="0.65"/>
<circle cx="235.6" cy="26.1" r="0.36" fill="#c8ca60" opacity="0.65"/>
<circle cx="219.7" cy="26.7" r="0.43" fill="#c8ca60" opacity="0.65"/>
<circle cx="206.9" cy="23.0" r="0.55" fill="#c8ca60" opacity="0.65"/>
<circle cx="224.4" cy="27.5" r="0.45" fill="#c8ca60" opacity="0.65"/>
<circle cx="246.0" cy="31.4" r="0.50" fill="#c8ca60" opacity="0.65"/>
<circle cx="220.4" cy="23.7" r="0.39" fill="#c8ca60" opacity="0.65"/>
<circle cx="218.3" cy="31.0" r="0.43" fill="#c8ca60" opacity="0.65"/>
<circle cx="236.1" cy="23.4" r="0.33" fill="#c8ca60" opacity="0.65"/>
<circle cx="252.2" cy="26.1" r="0.48" fill="#c8ca60" opacity="0.65"/>
<circle cx="200.9" cy="30.5" r="0.52" fill="#c8ca60" opacity="0.65"/>
<circle cx="235.8" cy="30.8" r="0.31" fill="#c8ca60" opacity="0.65"/>
<circle cx="200.0" cy="29.1" r="0.47" fill="#c8ca60" opacity="0.65"/>
<circle cx="202.7" cy="24.3" r="0.52" fill="#c8ca60" opacity="0.65"/>
<circle cx="213.6" cy="31.1" r="0.50" fill="#c8ca60" opacity="0.65"/>
<circle cx="237.9" cy="30.2" r="0.36" fill="#c8ca60" opacity="0.65"/>
<circle cx="246.8" cy="29.1" r="0.36" fill="#c8ca60" opacity="0.65"/>
<circle cx="215.8" cy="29.1" r="0.53" fill="#c8ca60" opacity="0.65"/>
<circle cx="223.8" cy="25.5" r="0.54" fill="#c8ca60" opacity="0.65"/>
<circle cx="225.3" cy="28.9" r="0.45" fill="#c8ca60" opacity="0.65"/>
<circle cx="210.5" cy="26.7" r="0.35" fill="#c8ca60" opacity="0.65"/>
<circle cx="220.6" cy="29.4" r="0.37" fill="#c8ca60" opacity="0.65"/>
<circle cx="216.0" cy="26.8" r="0.50" fill="#c8ca60" opacity="0.65"/>
<circle cx="212.1" cy="30.7" r="0.31" fill="#c8ca60" opacity="0.65"/>
<circle cx="248.4" cy="32.7" r="0.41" fill="#c8ca60" opacity="0.65"/>
<circle cx="227.8" cy="29.9" r="0.52" fill="#c8ca60" opacity="0.65"/>
<circle cx="211.4" cy="28.4" r="0.51" fill="#c8ca60" opacity="0.65"/>
<circle cx="241.0" cy="26.7" r="0.39" fill="#c8ca60" opacity="0.65"/>
<circle cx="218.5" cy="24.5" r="0.38" fill="#c8ca60" opacity="0.65"/>
<circle cx="201.0" cy="25.3" r="0.45" fill="#c8ca60" opacity="0.65"/>
<circle cx="254.4" cy="26.0" r="0.43" fill="#c8ca60" opacity="0.65"/>
<circle cx="214.9" cy="32.7" r="0.52" fill="#c8ca60" opacity="0.65"/>
<circle cx="252.6" cy="32.0" r="0.48" fill="#c8ca60" opacity="0.65"/>
<circle cx="241.6" cy="25.2" r="0.37" fill="#c8ca60" opacity="0.65"/>
<circle cx="234.2" cy="27.2" r="0.39" fill="#c8ca60" opacity="0.65"/>
<circle cx="198.9" cy="27.9" r="0.45" fill="#c8ca60" opacity="0.65"/>
<circle cx="198.8" cy="23.5" r="0.44" fill="#c8ca60" opacity="0.65"/>
<circle cx="214.5" cy="28.2" r="0.43" fill="#c8ca60" opacity="0.65"/>
<circle cx="221.2" cy="26.0" r="0.33" fill="#c8ca60" opacity="0.65"/>
<circle cx="218.3" cy="31.3" r="0.34" fill="#c8ca60" opacity="0.65"/>
<circle cx="196.9" cy="31.0" r="0.48" fill="#c8ca60" opacity="0.65"/>
<circle cx="223.5" cy="23.6" r="0.34" fill="#c8ca60" opacity="0.65"/>
<circle cx="236.6" cy="25.7" r="0.50" fill="#c8ca60" opacity="0.65"/>
<circle cx="255.0" cy="23.6" r="0.51" fill="#c8ca60" opacity="0.65"/>
<circle cx="250.5" cy="28.9" r="0.44" fill="#c8ca60" opacity="0.65"/>
<circle cx="232.7" cy="28.2" r="0.42" fill="#c8ca60" opacity="0.65"/>
<circle cx="206.1" cy="23.0" r="0.32" fill="#c8ca60" opacity="0.65"/>
<circle cx="197.5" cy="24.9" r="0.34" fill="#c8ca60" opacity="0.65"/>
<circle cx="251.6" cy="24.0" r="0.45" fill="#c8ca60" opacity="0.65"/>
<circle cx="236.1" cy="25.0" r="0.40" fill="#c8ca60" opacity="0.65"/>
<circle cx="227.6" cy="29.4" r="0.46" fill="#c8ca60" opacity="0.65"/>
<circle cx="221.3" cy="29.1" r="0.43" fill="#c8ca60" opacity="0.65"/>
<circle cx="199.9" cy="29.3" r="0.55" fill="#c8ca60" opacity="0.65"/>
<circle cx="240.2" cy="27.8" r="0.43" fill="#c8ca60" opacity="0.65"/>
<circle cx="218.9" cy="27.4" r="0.53" fill="#c8ca60" opacity="0.65"/>
<circle cx="200.9" cy="29.6" r="0.34" fill="#c8ca60" opacity="0.65"/>
<circle cx="256.8" cy="25.6" r="0.46" fill="#c8ca60" opacity="0.65"/>
<circle cx="203.5" cy="31.9" r="0.53" fill="#c8ca60" opacity="0.65"/>
<circle cx="253.5" cy="25.6" r="0.31" fill="#c8ca60" opacity="0.65"/>
<circle cx="234.8" cy="29.8" r="0.47" fill="#c8ca60" opacity="0.65"/>
<circle cx="252.0" cy="32.7" r="0.37" fill="#c8ca60" opacity="0.65"/>
<circle cx="252.6" cy="31.9" r="0.32" fill="#c8ca60" opacity="0.65"/>
<circle cx="227.0" cy="24.7" r="0.53" fill="#c8ca60" opacity="0.65"/>
<circle cx="247.3" cy="25.0" r="0.34" fill="#c8ca60" opacity="0.65"/>
<circle cx="251.8" cy="24.9" r="0.40" fill="#c8ca60" opacity="0.65"/>
<circle cx="232.7" cy="26.8" r="0.51" fill="#c8ca60" opacity="0.65"/>
<circle cx="252.2" cy="32.8" r="0.51" fill="#c8ca60" opacity="0.65"/>
<circle cx="228.7" cy="27.7" r="0.43" fill="#c8ca60" opacity="0.65"/>
<circle cx="196.4" cy="23.3" r="0.54" fill="#c8ca60" opacity="0.65"/>
<circle cx="210.3" cy="31.8" r="0.50" fill="#c8ca60" opacity="0.65"/>
<circle cx="219.9" cy="28.9" r="0.44" fill="#c8ca60" opacity="0.65"/>
<circle cx="206.5" cy="23.3" r="0.33" fill="#c8ca60" opacity="0.65"/>
<circle cx="233.9" cy="24.6" r="0.54" fill="#c8ca60" opacity="0.65"/>
<circle cx="238.7" cy="23.3" r="0.33" fill="#c8ca60" opacity="0.65"/>
<circle cx="235.3" cy="23.4" r="0.32" fill="#c8ca60" opacity="0.65"/>
<circle cx="198.8" cy="31.6" r="0.49" fill="#c8ca60" opacity="0.65"/>
<circle cx="208.2" cy="32.5" r="0.43" fill="#c8ca60" opacity="0.65"/>
<circle cx="236.5" cy="31.8" r="0.49" fill="#c8ca60" opacity="0.65"/>
<circle cx="239.4" cy="26.8" r="0.36" fill="#c8ca60" opacity="0.65"/>
<circle cx="208.4" cy="23.3" r="0.54" fill="#c8ca60" opacity="0.65"/>
<circle cx="251.6" cy="30.5" r="0.32" fill="#c8ca60" opacity="0.65"/>
<circle cx="241.8" cy="29.3" r="0.42" fill="#c8ca60" opacity="0.65"/>
<circle cx="204.1" cy="30.9" r="0.46" fill="#c8ca60" opacity="0.65"/>
<circle cx="214.0" cy="26.4" r="0.37" fill="#c8ca60" opacity="0.65"/>
<circle cx="217.4" cy="32.3" r="0.31" fill="#c8ca60" opacity="0.65"/>
<circle cx="242.4" cy="32.1" r="0.49" fill="#c8ca60" opacity="0.65"/>
<circle cx="232.7" cy="27.8" r="0.37" fill="#c8ca60" opacity="0.65"/>
<circle cx="241.5" cy="30.9" r="0.31" fill="#c8ca60" opacity="0.65"/>
<circle cx="227.6" cy="24.0" r="0.42" fill="#c8ca60" opacity="0.65"/>
<circle cx="198.9" cy="28.7" r="0.48" fill="#c8ca60" opacity="0.65"/>
<circle cx="246.5" cy="28.7" r="0.37" fill="#c8ca60" opacity="0.65"/>
<circle cx="222.6" cy="28.2" r="0.37" fill="#c8ca60" opacity="0.65"/>
<circle cx="241.8" cy="23.5" r="0.39" fill="#c8ca60" opacity="0.65"/>
<circle cx="201.8" cy="30.0" r="0.51" fill="#c8ca60" opacity="0.65"/>
<circle cx="255.0" cy="28.9" r="0.54" fill="#c8ca60" opacity="0.65"/>
<circle cx="227.4" cy="28.8" r="0.34" fill="#c8ca60" opacity="0.65"/>
<circle cx="245.7" cy="32.4" r="0.36" fill="#c8ca60" opacity="0.65"/>
<circle cx="206.1" cy="32.4" r="0.49" fill="#c8ca60" opacity="0.65"/>
<circle cx="225.9" cy="32.9" r="0.44" fill="#c8ca60" opacity="0.65"/>
<circle cx="202.4" cy="26.3" r="0.32" fill="#c8ca60" opacity="0.65"/>
<circle cx="252.6" cy="31.9" r="0.49" fill="#c8ca60" opacity="0.65"/>
<circle cx="221.7" cy="29.5" r="0.39" fill="#c8ca60" opacity="0.65"/>
<circle cx="214.5" cy="27.3" r="0.44" fill="#c8ca60" opacity="0.65"/>
<circle cx="206.4" cy="32.8" r="0.46" fill="#c8ca60" opacity="0.65"/>
<circle cx="253.6" cy="24.3" r="0.45" fill="#c8ca60" opacity="0.65"/>
<circle cx="238.0" cy="29.1" r="0.31" fill="#c8ca60" opacity="0.65"/>
<circle cx="231.5" cy="28.2" r="0.52" fill="#c8ca60" opacity="0.65"/>
<circle cx="223.5" cy="28.5" r="0.38" fill="#c8ca60" opacity="0.65"/>
<circle cx="224.3" cy="29.9" r="0.36" fill="#c8ca60" opacity="0.65"/>
<circle cx="210.1" cy="26.3" r="0.46" fill="#c8ca60" opacity="0.65"/>
<circle cx="238.5" cy="28.1" r="0.37" fill="#c8ca60" opacity="0.65"/>
<circle cx="242.0" cy="31.3" r="0.45" fill="#c8ca60" opacity="0.65"/>
<circle cx="240.1" cy="32.7" r="0.48" fill="#c8ca60" opacity="0.65"/>
<circle cx="232.8" cy="26.5" r="0.36" fill="#c8ca60" opacity="0.65"/>
<circle cx="254.3" cy="25.6" r="0.54" fill="#c8ca60" opacity="0.65"/>
<circle cx="256.7" cy="24.6" r="0.46" fill="#c8ca60" opacity="0.65"/>
<circle cx="207.9" cy="24.5" r="0.34" fill="#c8ca60" opacity="0.65"/>
<circle cx="214.4" cy="26.0" r="0.37" fill="#c8ca60" opacity="0.65"/>
<circle cx="202.7" cy="32.1" r="0.37" fill="#c8ca60" opacity="0.65"/>
<circle cx="250.0" cy="27.6" r="0.30" fill="#c8ca60" opacity="0.65"/>
<circle cx="248.1" cy="27.4" r="0.36" fill="#c8ca60" opacity="0.65"/>
<circle cx="255.8" cy="26.0" r="0.31" fill="#c8ca60" opacity="0.65"/>
<circle cx="211.7" cy="30.4" r="0.30" fill="#c8ca60" opacity="0.65"/>
<circle cx="210.8" cy="31.5" r="0.48" fill="#c8ca60" opacity="0.65"/>
<circle cx="231.8" cy="29.5" r="0.51" fill="#c8ca60" opacity="0.65"/>
<circle cx="236.7" cy="29.5" r="0.52" fill="#c8ca60" opacity="0.65"/>
<circle cx="235.1" cy="28.8" r="0.36" fill="#c8ca60" opacity="0.65"/>
<circle cx="207.1" cy="24.2" r="0.41" fill="#c8ca60" opacity="0.65"/>
<circle cx="211.8" cy="30.0" r="0.52" fill="#c8ca60" opacity="0.65"/>
<circle cx="210.8" cy="27.0" r="0.48" fill="#c8ca60" opacity="0.65"/>
<circle cx="205.5" cy="31.5" r="0.42" fill="#c8ca60" opacity="0.65"/>
<circle cx="197.2" cy="31.6" r="0.43" fill="#c8ca60" opacity="0.65"/>
<circle cx="236.3" cy="31.7" r="0.52" fill="#c8ca60" opacity="0.65"/>
<circle cx="216.0" cy="23.1" r="0.51" fill="#c8ca60" opacity="0.65"/>
<circle cx="251.4" cy="24.1" r="0.36" fill="#c8ca60" opacity="0.65"/>
<circle cx="209.3" cy="30.2" r="0.54" fill="#c8ca60" opacity="0.65"/>
<circle cx="208.2" cy="26.5" r="0.51" fill="#c8ca60" opacity="0.65"/>
<circle cx="223.9" cy="25.0" r="0.42" fill="#c8ca60" opacity="0.65"/>
<circle cx="197.0" cy="30.9" r="0.39" fill="#c8ca60" opacity="0.65"/>
<circle cx="216.9" cy="30.4" r="0.41" fill="#c8ca60" opacity="0.65"/>
<circle cx="256.4" cy="24.8" r="0.43" fill="#c8ca60" opacity="0.65"/>
<circle cx="252.9" cy="30.3" r="0.45" fill="#c8ca60" opacity="0.65"/>
<circle cx="234.9" cy="25.5" r="0.40" fill="#c8ca60" opacity="0.65"/>
<circle cx="199.8" cy="23.8" r="0.53" fill="#c8ca60" opacity="0.65"/>
<circle cx="234.3" cy="29.7" r="0.45" fill="#c8ca60" opacity="0.65"/>
<circle cx="202.7" cy="26.0" r="0.40" fill="#c8ca60" opacity="0.65"/>
<circle cx="254.2" cy="32.7" r="0.55" fill="#c8ca60" opacity="0.65"/>
<circle cx="254.6" cy="27.6" r="0.34" fill="#c8ca60" opacity="0.65"/>
<circle cx="252.7" cy="23.7" r="0.50" fill="#c8ca60" opacity="0.65"/>
<circle cx="207.8" cy="29.4" r="0.48" fill="#c8ca60" opacity="0.65"/>
<circle cx="245.7" cy="24.5" r="0.47" fill="#c8ca60" opacity="0.65"/>
<circle cx="246.7" cy="31.0" r="0.40" fill="#c8ca60" opacity="0.65"/>
<circle cx="256.8" cy="30.6" r="0.46" fill="#c8ca60" opacity="0.65"/>
<circle cx="243.6" cy="27.7" r="0.50" fill="#c8ca60" opacity="0.65"/>
<circle cx="210.1" cy="30.0" r="0.47" fill="#c8ca60" opacity="0.65"/>
<circle cx="256.0" cy="29.8" r="0.42" fill="#c8ca60" opacity="0.65"/>
<circle cx="245.1" cy="31.0" r="0.39" fill="#c8ca60" opacity="0.65"/>
<circle cx="235.9" cy="26.2" r="0.42" fill="#c8ca60" opacity="0.65"/>
<circle cx="234.0" cy="23.9" r="0.52" fill="#c8ca60" opacity="0.65"/>
<circle cx="205.3" cy="26.0" r="0.40" fill="#c8ca60" opacity="0.65"/>
<circle cx="201.2" cy="28.6" r="0.38" fill="#c8ca60" opacity="0.65"/>
<circle cx="253.5" cy="28.3" r="0.39" fill="#c8ca60" opacity="0.65"/>
<circle cx="231.5" cy="29.6" r="0.35" fill="#c8ca60" opacity="0.65"/>
<circle cx="200.4" cy="25.9" r="0.45" fill="#c8ca60" opacity="0.65"/>
<circle cx="231.3" cy="31.5" r="0.35" fill="#c8ca60" opacity="0.65"/>
<circle cx="223.6" cy="30.8" r="0.35" fill="#c8ca60" opacity="0.65"/>
<circle cx="220.6" cy="28.3" r="0.45" fill="#c8ca60" opacity="0.65"/>
<circle cx="238.0" cy="32.8" r="0.32" fill="#c8ca60" opacity="0.65"/>
<circle cx="251.0" cy="28.5" r="0.46" fill="#c8ca60" opacity="0.65"/>
</g>

<path d="M190,33.2 C192,33 194.5,32.8 197,32.6" stroke="#2a3018" stroke-width="0.8" fill="none"/>
<circle cx="200.2" cy="28.8" r="0.9" fill="#3a4418"/>
<path d="M209.4,33.4 C211.5,32.3 215,32.2 218,32.8 C217.5,34.5 215,36 212.5,36.5 C211,36.8 210,35.5 209.4,33.4 Z" fill="#6e7a30"/>
<!-- perch -->
<path d="M330.6,20.6 C330.6,18 331,15.8 331.6,14.6 L332.4,13 L333.4,13.9 L334.6,12.6 L335.6,13.6 L337,12.6 L338,13.6 L339.4,12.8 L340.2,14 L341.6,13.8 L342.3,15 L343.8,15.4 L344.3,16.6 L345.7,17.3 L346.2,18.5 L347.8,19.4 L347.8,20.2 Z" fill="#c6b87a"/><g id="pfd">
<circle cx="336.0" cy="16.8" r="0.35" fill="#d4a050" opacity="0.8"/>
<circle cx="334.7" cy="14.3" r="0.35" fill="#d4a050" opacity="0.8"/>
<circle cx="333.3" cy="14.5" r="0.35" fill="#d4a050" opacity="0.8"/>
<circle cx="337.8" cy="18.8" r="0.35" fill="#d4a050" opacity="0.8"/>
<circle cx="338.6" cy="17.1" r="0.35" fill="#d4a050" opacity="0.8"/>
<circle cx="338.8" cy="19.2" r="0.35" fill="#d4a050" opacity="0.8"/>
<circle cx="334.0" cy="17.4" r="0.35" fill="#d4a050" opacity="0.8"/>
<circle cx="336.3" cy="18.0" r="0.35" fill="#d4a050" opacity="0.8"/>
<circle cx="339.0" cy="15.6" r="0.35" fill="#d4a050" opacity="0.8"/>
<circle cx="338.5" cy="16.4" r="0.35" fill="#d4a050" opacity="0.8"/>
<circle cx="334.2" cy="16.0" r="0.35" fill="#d4a050" opacity="0.8"/>
<circle cx="332.2" cy="18.2" r="0.35" fill="#d4a050" opacity="0.8"/>
<circle cx="332.9" cy="16.7" r="0.35" fill="#d4a050" opacity="0.8"/>
<circle cx="334.7" cy="16.3" r="0.35" fill="#d4a050" opacity="0.8"/>
<circle cx="333.4" cy="14.4" r="0.35" fill="#d4a050" opacity="0.8"/>
<circle cx="336.6" cy="15.3" r="0.35" fill="#d4a050" opacity="0.8"/>
<circle cx="332.3" cy="15.5" r="0.35" fill="#d4a050" opacity="0.8"/>
<circle cx="336.8" cy="16.8" r="0.35" fill="#d4a050" opacity="0.8"/>
<circle cx="336.5" cy="19.7" r="0.35" fill="#d4a050" opacity="0.8"/>
<circle cx="334.6" cy="16.8" r="0.35" fill="#d4a050" opacity="0.8"/>
<circle cx="333.3" cy="15.0" r="0.35" fill="#d4a050" opacity="0.8"/>
<circle cx="339.8" cy="16.2" r="0.35" fill="#d4a050" opacity="0.8"/>
<circle cx="340.1" cy="16.2" r="0.35" fill="#d4a050" opacity="0.8"/>
<circle cx="339.0" cy="17.1" r="0.35" fill="#d4a050" opacity="0.8"/>
<circle cx="337.1" cy="14.7" r="0.35" fill="#d4a050" opacity="0.8"/>
<circle cx="341.6" cy="17.9" r="0.35" fill="#d4a050" opacity="0.8"/>
<circle cx="332.1" cy="17.6" r="0.35" fill="#d4a050" opacity="0.8"/>
<circle cx="341.5" cy="19.0" r="0.35" fill="#d4a050" opacity="0.8"/>
<circle cx="337.8" cy="14.4" r="0.35" fill="#d4a050" opacity="0.8"/>
<circle cx="336.1" cy="18.1" r="0.35" fill="#d4a050" opacity="0.8"/>
<circle cx="340.0" cy="17.3" r="0.35" fill="#d4a050" opacity="0.8"/>
<circle cx="339.3" cy="18.7" r="0.35" fill="#d4a050" opacity="0.8"/>
<circle cx="332.5" cy="17.9" r="0.35" fill="#d4a050" opacity="0.8"/>
<circle cx="340.4" cy="19.8" r="0.35" fill="#d4a050" opacity="0.8"/>
<circle cx="332.7" cy="16.6" r="0.35" fill="#d4a050" opacity="0.8"/>
<circle cx="341.5" cy="19.7" r="0.35" fill="#d4a050" opacity="0.8"/>
<circle cx="333.3" cy="16.6" r="0.35" fill="#d4a050" opacity="0.8"/>
<circle cx="335.6" cy="17.2" r="0.35" fill="#d4a050" opacity="0.8"/>
<circle cx="338.3" cy="18.3" r="0.35" fill="#d4a050" opacity="0.8"/>
<circle cx="342.7" cy="18.0" r="0.35" fill="#d4a050" opacity="0.8"/>
</g>
<path d="M351,21.6 C352.3,19.6 354.2,18 356.4,17.8 C358.8,17.8 361,18.8 361.6,19.6 C362.8,20.9 363.2,22.4 363,23.8 Z" fill="#aca468"/>
<path d="M368.8,24.8 C371,23.5 374,21.8 377.5,20.8 C378.6,23.5 378.3,27 378.9,30 C379.2,31.5 379,33 378.5,33.5 C375,33 371.5,32.2 368.8,31.6 Z" fill="#a8a474"/>
<path d="M314.8,28.6 C316,26.8 317.8,25.5 319.6,24.5 C322.5,22.6 325.5,21.3 328.5,20.5 C331.5,19.8 334.5,19.5 337.5,19.5 C341,19.6 344.5,19.8 347.6,20.1 C350,20.6 352,21 354,21.4 C357,22.1 360,23.1 362.9,23.9 C365,24.4 367.2,24.8 369.4,25.1 L369.4,31.5 C367,31.7 365,31.9 362.9,32.2 C359.5,32.8 356,33.3 352.7,33.6 C348,34.8 344,35.2 338,35.2 C334,35.2 330,34.8 326,34 C323.5,33.4 321,32.6 319.2,31.5 C317.3,30.6 315.7,29.6 314.8,28.6 Z" fill="url(#perchg)"/>
<g fill="#232318">
<path d="M328.4,20.9 C330,20.3 331.8,20 333.2,20 C333.2,23 333.4,26.5 333.2,29.2 C332.4,29.4 331.8,29 331.4,28.4 C330.5,25.8 329.5,23.3 328.4,20.9 Z"/>
<path d="M337.4,19.6 C339,19.5 341,19.6 342.6,19.8 C341.9,22.5 341.1,25 340.8,27.5 C340.6,29 340.6,30.5 340.4,31.6 C339.8,31.8 339.4,31.5 339.3,31 C339,28 338.6,25 338,22.5 C337.8,21.5 337.6,20.5 337.4,19.6 Z"/>
<path d="M344.4,20 C346.5,20.1 348.8,20.4 350.8,20.8 C349.5,22.8 348.5,25.2 348.1,27.5 C347.8,28.8 347.9,30 347.6,31 C346.9,31.2 346.5,30.8 346.4,30.3 C346.2,27.5 345.8,24.5 345.2,22.5 C344.9,21.6 344.6,20.8 344.4,20 Z"/>
<path d="M353.2,21.5 C354.8,21.8 356.6,22.2 358,22.6 C357.2,24.4 356.8,26.4 356.5,29 C356,29.2 355.5,29 355.3,28.6 C354.8,26.2 354,23.6 353.2,21.5 Z"/>
<path d="M359.6,23 C360.6,23.3 361.6,23.6 362.4,23.9 C362,25 361.8,26.2 361.5,27.2 C361,27.3 360.7,27 360.5,26.6 C360.3,25.4 360,24.2 359.6,23 Z"/>
</g>
<path d="M333.2,28 C335,27.2 337.8,27.4 339.4,28.6 C339.6,30.2 339,31.8 337.8,32.4 C336,32.6 334,31.8 333.2,30.4 Z" fill="#b8b48a" opacity="0.85"/>
<path d="M324.8,33.4 C332,34.6 344,34.8 352.7,33.4 C349,34.8 344,35.6 338,35.6 C333,35.6 328,34.8 324.8,33.4 Z" fill="#f6f6f0"/>
<path d="M334.9,34.9 C337,34.6 341,34.8 343.8,35.1 C343.2,36.4 341,37.1 338.8,37.1 C336.8,37 335.4,36.2 334.9,34.9 Z" fill="#ff4a1a"/>
<path d="M352.7,32.4 C355.5,31.4 359,30.7 362.2,30.9 C363.4,32.2 363.2,34.5 362.4,36.2 C361.4,37.3 359.5,37.4 358,36.8 C356,35.7 354,34 352.7,32.4 Z" fill="#ff4418"/>
<circle cx="321.2" cy="27.7" r="1.05" fill="#e8e4c8"/>
<circle cx="321.2" cy="27.7" r="0.65" fill="#1a1a14"/>
<!-- rudd -->
<path d="M500.4,21.6 C503.5,20.4 508,19 512.4,18 C511.7,20.5 509.3,23.6 506.9,25.9 C508.9,28.3 511.3,31 512.8,33.7 C508.5,33.1 504,30.6 500.4,26.9 Z" fill="#f25a28"/>
<path d="M500.6,21.9 C503,21 505.8,20.4 508.8,20 C508.2,22 507,24 505.6,25.9 C506.7,27.5 508,29.2 509.1,30.8 C506.2,29.8 503.2,28.2 500.6,26.5 Z" fill="#e6dc98"/>
<path d="M474.9,32.6 C477.5,32.5 481,33 483.2,33.6 C482.5,34.8 481.5,35.9 480.3,36.8 C478.5,36.4 476.5,34.8 474.9,32.6 Z" fill="#f06a30"/>
<path d="M488.9,29.3 C490.8,28.8 493.3,28.5 495.3,28.5 C495.2,30.5 494.8,33 494,34.9 C492.2,33.6 490.3,31.5 488.9,29.3 Z" fill="#f06a30"/>
<path d="M448.1,25.9 C449.3,24.5 450.5,23.3 452.1,22.4 C454,21 456,20 458.3,19.3 C461,18.3 464,17.6 467.1,17.1 C470,16.6 473,16.3 476,16.2 C478.5,16.1 481,16.2 483,16.5 C486,17.1 489,18 492,19.3 C495,20.5 498,21.2 501,21.5 L501,26.7 C499,27.2 497,27.8 495,28.5 C493,29.3 491,30 489.5,30.6 C487,31.5 485,32.3 483,32.8 C479,33.5 475,33.6 471.5,33.5 C468.5,33.4 465.5,33.1 462.7,32.6 C460.5,32.2 458.3,31.7 456.5,31.2 C454,30.3 452,29.3 450.3,28.1 C449.3,27.4 448.6,26.7 448.1,25.9 Z" fill="url(#ruddg)"/>
<path d="M481.5,16.5 C483,15.4 485.5,15 489.4,15.3 C489,16.6 488.2,17.6 487.2,18.2 C485.5,17.4 483.5,16.8 481.5,16.5 Z" fill="#f05a2a"/>
<path d="M480.4,16.4 C481.4,15.7 482.6,15.4 484,15.3 C483.7,16 483.2,16.6 482.6,16.8 Z" fill="#f2eed2"/>

<path d="M448.4,25.6 C451,22.5 455,20 460,18.5 C466,16.9 474,16.1 481,16.2 C486,16.9 492,18.8 498,20.9" fill="none" stroke="#c09038" stroke-width="0.8"/>
<path d="M457.2,22.6 C459,25 459.8,28 459.2,31.3" fill="none" stroke="#a8a048" stroke-width="0.8"/>
<path d="M461,29.8 C465,30.5 470,30.7 474,30.2" fill="none" stroke="#9cb048" stroke-width="1.1"/>
<path d="M456,31 C462,32.6 470,33.4 478,33.2 C482,33 485,32.4 487.5,31.6" fill="none" stroke="#eef2cc" stroke-width="0.7"/>
<circle cx="452.5" cy="26.3" r="1" fill="#141410"/>

</svg></body></html>
